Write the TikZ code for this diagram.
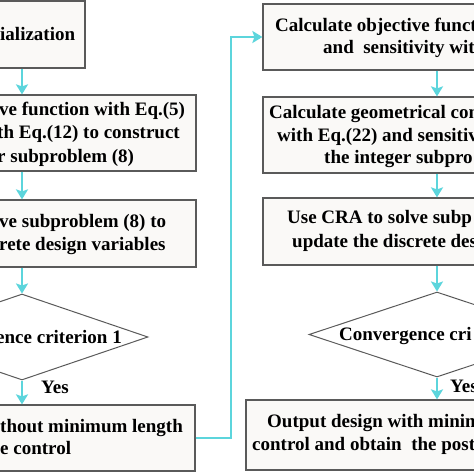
\documentclass[tikz,border=0pt]{standalone}
\usepackage{fontspec}
\setmainfont{Liberation Serif}
\usetikzlibrary{arrows.meta,shapes.geometric}
\definecolor{flowcyan}{HTML}{5CD5DC}
\definecolor{boxgray}{HTML}{5A5A5A}
\definecolor{boxfill}{HTML}{FAF9F7}
\tikzset{
  box/.style={draw=boxgray, fill=boxfill, line width=1.2pt, inner sep=0pt},
  test/.style={diamond, draw=boxgray, fill=white, line width=1pt, inner sep=0pt},
  txt/.style={anchor=base west, inner sep=0pt, font=\fontsize{19}{21}\selectfont\bfseries},
  flow/.style={draw=flowcyan, line width=2.2pt, -{Stealth[length=10pt,width=12pt,inset=2pt]}}
}
\begin{document}
\begin{tikzpicture}[x=1pt,y=-1pt]
\useasboundingbox (0,0) rectangle (474,474);
\clip (0,0) rectangle (474,474);

% left column
\node[box, minimum width=126pt, minimum height=67pt] (L1) at (22,34.5) {};
\node[box, minimum width=348pt, minimum height=76pt] (L2) at (22,133) {};
\node[box, minimum width=348pt, minimum height=67pt] (L3) at (22,233.5) {};
\node[test, minimum width=252pt, minimum height=86pt] (D1) at (22,337) {};
\node[box, minimum width=346pt, minimum height=66pt] (L5) at (22,438) {};

% right column
\node[box, minimum width=348pt, minimum height=66pt] (R1) at (437,37) {};
\node[box, minimum width=348pt, minimum height=76pt] (R2) at (437,135) {};
\node[box, minimum width=348pt, minimum height=67pt] (R3) at (437,231.5) {};
\node[test, minimum width=256pt, minimum height=85pt] (D2) at (437,334.5) {};
\node[box, minimum width=382pt, minimum height=70pt] (R4) at (437,435) {};

% texts
\node[txt] (tL1) at (0,40) {ialization};
\node[txt] (tL2a) at (-1,115) {ve function with Eq.(5)};
\node[txt] (tL2b) at (-3,138) {th Eq.(12) to construct};
\node[txt] (tL2c) at (-3,162) {r subproblem (8)};
\node[txt] (tL3a) at (-1,227) {ve subproblem (8) to};
\node[txt] (tL3b) at (-1,250) {rete design variables};
\node[txt] (tD1) at (-4,343) {ence criterion 1};
\node[txt] (yes1) at (41,393) {Yes};
\node[txt] (tL5a) at (0,432) {thout minimum length};
\node[txt] (tL5b) at (0,454) {e control};

\node[txt] (tR1a) at (275,31) {Calculate objective funct};
\node[txt] (tR1b) at (323,53) {and\ \ sensitivity wit};
\node[txt] (tR2a) at (269,118) {Calculate geometrical con};
\node[txt] (tR2b) at (277,141) {with Eq.(22) and sensitiv};
\node[txt] (tR2c) at (324,163) {the integer subpro};
\node[txt] (tR3a) at (287,223) {Use CRA to solve subp};
\node[txt] (tR3b) at (292,247) {update the discrete des};
\node[txt] (tD2) at (339,340) {Convergence cri};
\node[txt] (yes2) at (450,392) {Yes};
\node[txt] (tR4a) at (267,427) {Output design with minim};
\node[txt] (tR4b) at (252,450) {control and obtain\ \ the post};

% arrows
\draw[flow] (L1) -- (L2);
\draw[flow] (L2) -- (L3);
\draw[flow] (L3) -- (D1.north);
\draw[flow] (D1.south) -- (L5);
\draw[flow] (L5.east) -- ++(35,0) |- (R1.west);
\draw[flow] (R1) -- (R2);
\draw[flow] (R2) -- (R3);
\draw[flow] (R3) -- (D2.north);
\draw[flow] (D2.south) -- (R4);
\end{tikzpicture}
\end{document}
